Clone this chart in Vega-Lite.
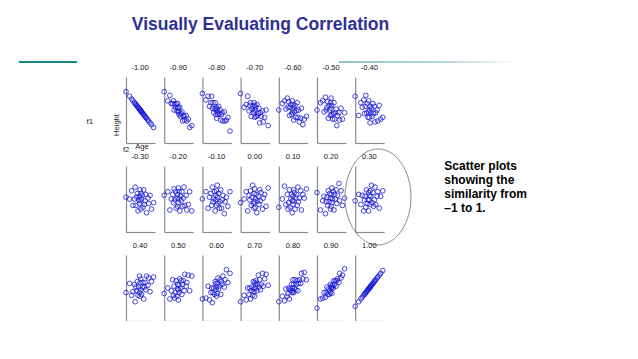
{
  "$schema": "https://vega.github.io/schema/vega-lite/v6.json",
  "background": "white",
  "padding": {"left": 18, "top": 16, "right": 0, "bottom": 0},
  "bounds": "flush",
  "title": {"text": "Visually Evaluating Correlation", "font": "Liberation Sans", "fontSize": 17.5, "fontWeight": "bold", "color": "#2e3192", "anchor": "middle", "frame": "group", "baseline": "alphabetic", "offset": 13, "dx": 134.5},
  "data": {"values": [
    {"r":-1,"x":-20,"y":20},{"r":-1,"x":-15,"y":15},{"r":-1,"x":-12,"y":12},{"r":-1,"x":-10,"y":10},{"r":-1,"x":-8,"y":8},{"r":-1,"x":-7,"y":7},{"r":-1,"x":-6,"y":6},{"r":-1,"x":-5,"y":5},{"r":-1,"x":-4,"y":4},{"r":-1,"x":-3,"y":3},{"r":-1,"x":-2,"y":2},{"r":-1,"x":-1,"y":1},{"r":-1,"x":-1.5,"y":1.5},{"r":-1,"x":0,"y":0},{"r":-1,"x":0.5,"y":-0.5},{"r":-1,"x":1,"y":-1},{"r":-1,"x":1.5,"y":-1.5},{"r":-1,"x":2,"y":-2},{"r":-1,"x":3,"y":-3},{"r":-1,"x":4,"y":-4},{"r":-1,"x":5,"y":-5},{"r":-1,"x":6,"y":-6},{"r":-1,"x":7,"y":-7},{"r":-1,"x":8,"y":-8},{"r":-1,"x":9,"y":-9},{"r":-1,"x":11,"y":-11},{"r":-1,"x":12,"y":-12},{"r":-1,"x":14,"y":-14},{"r":-1,"x":16,"y":-16},{"r":-1,"x":19,"y":-19},
    {"r":-0.9,"x":-20,"y":20},{"r":-0.9,"x":-15,"y":10},{"r":-0.9,"x":-12,"y":16},{"r":-0.9,"x":-10,"y":7},{"r":-0.9,"x":-8,"y":7},{"r":-0.9,"x":-7,"y":10},{"r":-0.9,"x":-6,"y":0},{"r":-0.9,"x":-5,"y":6},{"r":-0.9,"x":-4,"y":3},{"r":-0.9,"x":-3,"y":7},{"r":-0.9,"x":-2,"y":-1},{"r":-0.9,"x":-1,"y":2},{"r":-0.9,"x":-1,"y":7},{"r":-0.9,"x":0,"y":-2},{"r":-0.9,"x":0,"y":3},{"r":-0.9,"x":1,"y":-5},{"r":-0.9,"x":1,"y":-2},{"r":-0.9,"x":2,"y":3},{"r":-0.9,"x":3,"y":-7},{"r":-0.9,"x":4,"y":-4},{"r":-0.9,"x":5,"y":-2},{"r":-0.9,"x":6,"y":-12},{"r":-0.9,"x":7,"y":-7},{"r":-0.9,"x":8,"y":-6},{"r":-0.9,"x":9,"y":-11},{"r":-0.9,"x":11,"y":-6},{"r":-0.9,"x":12,"y":-12},{"r":-0.9,"x":14,"y":-10},{"r":-0.9,"x":16,"y":-19},{"r":-0.9,"x":19,"y":-17},
    {"r":-0.8,"x":-20,"y":18},{"r":-0.8,"x":-15,"y":11},{"r":-0.8,"x":-12,"y":15},{"r":-0.8,"x":-10,"y":4},{"r":-0.8,"x":-8,"y":8},{"r":-0.8,"x":-7,"y":15},{"r":-0.8,"x":-6,"y":2},{"r":-0.8,"x":-5,"y":8},{"r":-0.8,"x":-4,"y":-3},{"r":-0.8,"x":-3,"y":1},{"r":-0.8,"x":-2,"y":8},{"r":-0.8,"x":-1,"y":-5},{"r":-0.8,"x":-1,"y":1},{"r":-0.8,"x":0,"y":3},{"r":-0.8,"x":0,"y":-9},{"r":-0.8,"x":1,"y":-2},{"r":-0.8,"x":1,"y":1},{"r":-0.8,"x":2,"y":-5},{"r":-0.8,"x":3,"y":4},{"r":-0.8,"x":4,"y":-4},{"r":-0.8,"x":5,"y":0},{"r":-0.8,"x":6,"y":-11},{"r":-0.8,"x":7,"y":-5},{"r":-0.8,"x":8,"y":-3},{"r":-0.8,"x":9,"y":-12},{"r":-0.8,"x":11,"y":-2},{"r":-0.8,"x":12,"y":-12},{"r":-0.8,"x":14,"y":-11},{"r":-0.8,"x":16,"y":-8},{"r":-0.8,"x":19,"y":-23},
    {"r":-0.7,"x":-20,"y":18},{"r":-0.7,"x":-15,"y":3},{"r":-0.7,"x":-12,"y":6},{"r":-0.7,"x":-10,"y":15},{"r":-0.7,"x":-8,"y":-1},{"r":-0.7,"x":-7,"y":5},{"r":-0.7,"x":-6,"y":8},{"r":-0.7,"x":-5,"y":-7},{"r":-0.7,"x":-4,"y":1},{"r":-0.7,"x":-3,"y":4},{"r":-0.7,"x":-2,"y":-3},{"r":-0.7,"x":-1,"y":8},{"r":-0.7,"x":-1,"y":-1},{"r":-0.7,"x":0,"y":5},{"r":-0.7,"x":0,"y":-8},{"r":-0.7,"x":1,"y":0},{"r":-0.7,"x":1,"y":3},{"r":-0.7,"x":2,"y":-7},{"r":-0.7,"x":3,"y":6},{"r":-0.7,"x":4,"y":-6},{"r":-0.7,"x":5,"y":-4},{"r":-0.7,"x":6,"y":2},{"r":-0.7,"x":7,"y":-14},{"r":-0.7,"x":8,"y":-3},{"r":-0.7,"x":9,"y":-7},{"r":-0.7,"x":11,"y":-1},{"r":-0.7,"x":12,"y":-13},{"r":-0.7,"x":14,"y":-8},{"r":-0.7,"x":16,"y":0},{"r":-0.7,"x":19,"y":-17},
    {"r":-0.6,"x":-20,"y":0},{"r":-0.6,"x":-15,"y":7},{"r":-0.6,"x":-12,"y":10},{"r":-0.6,"x":-10,"y":1},{"r":-0.6,"x":-8,"y":13},{"r":-0.6,"x":-7,"y":3},{"r":-0.6,"x":-6,"y":9},{"r":-0.6,"x":-5,"y":-6},{"r":-0.6,"x":-4,"y":3},{"r":-0.6,"x":-3,"y":6},{"r":-0.6,"x":-2,"y":-5},{"r":-0.6,"x":-1,"y":10},{"r":-0.6,"x":-1,"y":-3},{"r":-0.6,"x":0,"y":0},{"r":-0.6,"x":0,"y":6},{"r":-0.6,"x":1,"y":-11},{"r":-0.6,"x":1,"y":3},{"r":-0.6,"x":2,"y":-2},{"r":-0.6,"x":3,"y":5},{"r":-0.6,"x":4,"y":-8},{"r":-0.6,"x":5,"y":-1},{"r":-0.6,"x":6,"y":8},{"r":-0.6,"x":7,"y":-8},{"r":-0.6,"x":8,"y":0},{"r":-0.6,"x":9,"y":-13},{"r":-0.6,"x":11,"y":-9},{"r":-0.6,"x":12,"y":2},{"r":-0.6,"x":14,"y":-16},{"r":-0.6,"x":16,"y":-10},{"r":-0.6,"x":19,"y":-7},
    {"r":-0.5,"x":-20,"y":0},{"r":-0.5,"x":-15,"y":8},{"r":-0.5,"x":-12,"y":10},{"r":-0.5,"x":-10,"y":-2},{"r":-0.5,"x":-8,"y":14},{"r":-0.5,"x":-7,"y":0},{"r":-0.5,"x":-6,"y":3},{"r":-0.5,"x":-5,"y":9},{"r":-0.5,"x":-4,"y":-9},{"r":-0.5,"x":-3,"y":5},{"r":-0.5,"x":-2,"y":0},{"r":-0.5,"x":-1,"y":8},{"r":-0.5,"x":-1,"y":-6},{"r":-0.5,"x":0,"y":2},{"r":-0.5,"x":0,"y":13},{"r":-0.5,"x":1,"y":-5},{"r":-0.5,"x":1,"y":5},{"r":-0.5,"x":2,"y":-10},{"r":-0.5,"x":3,"y":-4},{"r":-0.5,"x":4,"y":8},{"r":-0.5,"x":5,"y":-10},{"r":-0.5,"x":6,"y":-3},{"r":-0.5,"x":7,"y":1},{"r":-0.5,"x":8,"y":-17},{"r":-0.5,"x":9,"y":-6},{"r":-0.5,"x":11,"y":-3},{"r":-0.5,"x":12,"y":-11},{"r":-0.5,"x":14,"y":2},{"r":-0.5,"x":16,"y":-10},{"r":-0.5,"x":19,"y":-3},
    {"r":-0.4,"x":-20,"y":15},{"r":-0.4,"x":-15,"y":-6},{"r":-0.4,"x":-12,"y":8},{"r":-0.4,"x":-10,"y":3},{"r":-0.4,"x":-8,"y":11},{"r":-0.4,"x":-7,"y":-4},{"r":-0.4,"x":-6,"y":4},{"r":-0.4,"x":-5,"y":16},{"r":-0.4,"x":-4,"y":-3},{"r":-0.4,"x":-3,"y":7},{"r":-0.4,"x":-2,"y":-8},{"r":-0.4,"x":-1,"y":-2},{"r":-0.4,"x":-1,"y":10},{"r":-0.4,"x":0,"y":-8},{"r":-0.4,"x":0,"y":0},{"r":-0.4,"x":1,"y":4},{"r":-0.4,"x":1,"y":-14},{"r":-0.4,"x":2,"y":-3},{"r":-0.4,"x":3,"y":2},{"r":-0.4,"x":4,"y":-7},{"r":-0.4,"x":5,"y":7},{"r":-0.4,"x":6,"y":-4},{"r":-0.4,"x":7,"y":4},{"r":-0.4,"x":8,"y":-13},{"r":-0.4,"x":9,"y":-3},{"r":-0.4,"x":11,"y":0},{"r":-0.4,"x":12,"y":-12},{"r":-0.4,"x":14,"y":5},{"r":-0.4,"x":16,"y":-10},{"r":-0.4,"x":19,"y":-8},
    {"r":-0.3,"x":-20,"y":2},{"r":-0.3,"x":-15,"y":0},{"r":-0.3,"x":-12,"y":9},{"r":-0.3,"x":-10,"y":-7},{"r":-0.3,"x":-8,"y":0},{"r":-0.3,"x":-7,"y":13},{"r":-0.3,"x":-6,"y":-7},{"r":-0.3,"x":-5,"y":2},{"r":-0.3,"x":-4,"y":6},{"r":-0.3,"x":-3,"y":-13},{"r":-0.3,"x":-2,"y":-1},{"r":-0.3,"x":-1,"y":3},{"r":-0.3,"x":-1,"y":-5},{"r":-0.3,"x":0,"y":10},{"r":-0.3,"x":0,"y":-2},{"r":-0.3,"x":1,"y":6},{"r":-0.3,"x":1,"y":-11},{"r":-0.3,"x":2,"y":0},{"r":-0.3,"x":3,"y":4},{"r":-0.3,"x":4,"y":-9},{"r":-0.3,"x":5,"y":10},{"r":-0.3,"x":6,"y":-6},{"r":-0.3,"x":7,"y":-2},{"r":-0.3,"x":8,"y":5},{"r":-0.3,"x":9,"y":-15},{"r":-0.3,"x":11,"y":1},{"r":-0.3,"x":12,"y":-5},{"r":-0.3,"x":14,"y":4},{"r":-0.3,"x":16,"y":-11},{"r":-0.3,"x":19,"y":-4},
    {"r":-0.2,"x":-20,"y":4},{"r":-0.2,"x":-15,"y":8},{"r":-0.2,"x":-12,"y":-12},{"r":-0.2,"x":-10,"y":0},{"r":-0.2,"x":-8,"y":5},{"r":-0.2,"x":-7,"y":-4},{"r":-0.2,"x":-6,"y":11},{"r":-0.2,"x":-5,"y":-1},{"r":-0.2,"x":-4,"y":8},{"r":-0.2,"x":-3,"y":-10},{"r":-0.2,"x":-2,"y":1},{"r":-0.2,"x":-1,"y":5},{"r":-0.2,"x":-1,"y":-8},{"r":-0.2,"x":0,"y":12},{"r":-0.2,"x":0,"y":-4},{"r":-0.2,"x":1,"y":0},{"r":-0.2,"x":1,"y":8},{"r":-0.2,"x":2,"y":-13},{"r":-0.2,"x":3,"y":3},{"r":-0.2,"x":4,"y":-2},{"r":-0.2,"x":5,"y":8},{"r":-0.2,"x":6,"y":-8},{"r":-0.2,"x":7,"y":1},{"r":-0.2,"x":8,"y":13},{"r":-0.2,"x":9,"y":-7},{"r":-0.2,"x":11,"y":4},{"r":-0.2,"x":12,"y":-12},{"r":-0.2,"x":14,"y":-6},{"r":-0.2,"x":16,"y":8},{"r":-0.2,"x":19,"y":-13},
    {"r":-0.1,"x":-20,"y":0},{"r":-0.1,"x":-15,"y":8},{"r":-0.1,"x":-12,"y":-10},{"r":-0.1,"x":-10,"y":2},{"r":-0.1,"x":-8,"y":6},{"r":-0.1,"x":-7,"y":-7},{"r":-0.1,"x":-6,"y":13},{"r":-0.1,"x":-5,"y":-3},{"r":-0.1,"x":-4,"y":0},{"r":-0.1,"x":-3,"y":8},{"r":-0.1,"x":-2,"y":-13},{"r":-0.1,"x":-1,"y":4},{"r":-0.1,"x":-1,"y":-1},{"r":-0.1,"x":0,"y":9},{"r":-0.1,"x":0,"y":-7},{"r":-0.1,"x":1,"y":2},{"r":-0.1,"x":1,"y":15},{"r":-0.1,"x":2,"y":-5},{"r":-0.1,"x":3,"y":6},{"r":-0.1,"x":4,"y":-10},{"r":-0.1,"x":5,"y":-3},{"r":-0.1,"x":6,"y":10},{"r":-0.1,"x":7,"y":-10},{"r":-0.1,"x":8,"y":-1},{"r":-0.1,"x":9,"y":4},{"r":-0.1,"x":11,"y":-16},{"r":-0.1,"x":12,"y":-3},{"r":-0.1,"x":14,"y":2},{"r":-0.1,"x":16,"y":-8},{"r":-0.1,"x":19,"y":8},
    {"r":0,"x":-20,"y":-4},{"r":0,"x":-15,"y":0},{"r":0,"x":-12,"y":8},{"r":0,"x":-10,"y":-13},{"r":0,"x":-8,"y":4},{"r":0,"x":-7,"y":-1},{"r":0,"x":-6,"y":9},{"r":0,"x":-5,"y":-7},{"r":0,"x":-4,"y":2},{"r":0,"x":-3,"y":15},{"r":0,"x":-2,"y":-5},{"r":0,"x":-1,"y":6},{"r":0,"x":-1,"y":-10},{"r":0,"x":0,"y":-3},{"r":0,"x":0,"y":11},{"r":0,"x":1,"y":-9},{"r":0,"x":1,"y":0},{"r":0,"x":2,"y":5},{"r":0,"x":3,"y":-15},{"r":0,"x":4,"y":-2},{"r":0,"x":5,"y":3},{"r":0,"x":6,"y":-6},{"r":0,"x":7,"y":10},{"r":0,"x":8,"y":-2},{"r":0,"x":9,"y":7},{"r":0,"x":11,"y":-11},{"r":0,"x":12,"y":1},{"r":0,"x":14,"y":5},{"r":0,"x":16,"y":-8},{"r":0,"x":19,"y":12},
    {"r":0.1,"x":-20,"y":-9},{"r":0.1,"x":-15,"y":0},{"r":0.1,"x":-12,"y":14},{"r":0.1,"x":-10,"y":-6},{"r":0.1,"x":-8,"y":5},{"r":0.1,"x":-7,"y":-11},{"r":0.1,"x":-6,"y":-4},{"r":0.1,"x":-5,"y":10},{"r":0.1,"x":-4,"y":-9},{"r":0.1,"x":-3,"y":0},{"r":0.1,"x":-2,"y":5},{"r":0.1,"x":-1,"y":-15},{"r":0.1,"x":-1,"y":-2},{"r":0.1,"x":0,"y":3},{"r":0.1,"x":0,"y":-6},{"r":0.1,"x":1,"y":10},{"r":0.1,"x":1,"y":-2},{"r":0.1,"x":2,"y":7},{"r":0.1,"x":3,"y":-11},{"r":0.1,"x":4,"y":1},{"r":0.1,"x":5,"y":5},{"r":0.1,"x":6,"y":-7},{"r":0.1,"x":7,"y":13},{"r":0.1,"x":8,"y":-3},{"r":0.1,"x":9,"y":1},{"r":0.1,"x":11,"y":9},{"r":0.1,"x":12,"y":-12},{"r":0.1,"x":14,"y":5},{"r":0.1,"x":16,"y":1},{"r":0.1,"x":19,"y":11},
    {"r":0.2,"x":-20,"y":7},{"r":0.2,"x":-15,"y":-12},{"r":0.2,"x":-12,"y":-2},{"r":0.2,"x":-10,"y":3},{"r":0.2,"x":-8,"y":-16},{"r":0.2,"x":-7,"y":-3},{"r":0.2,"x":-6,"y":2},{"r":0.2,"x":-5,"y":-7},{"r":0.2,"x":-4,"y":9},{"r":0.2,"x":-3,"y":-3},{"r":0.2,"x":-2,"y":6},{"r":0.2,"x":-1,"y":-11},{"r":0.2,"x":-1,"y":1},{"r":0.2,"x":0,"y":5},{"r":0.2,"x":0,"y":-8},{"r":0.2,"x":1,"y":12},{"r":0.2,"x":1,"y":-4},{"r":0.2,"x":2,"y":0},{"r":0.2,"x":3,"y":8},{"r":0.2,"x":4,"y":-12},{"r":0.2,"x":5,"y":5},{"r":0.2,"x":6,"y":0},{"r":0.2,"x":7,"y":10},{"r":0.2,"x":8,"y":-5},{"r":0.2,"x":9,"y":4},{"r":0.2,"x":11,"y":17},{"r":0.2,"x":12,"y":-2},{"r":0.2,"x":14,"y":9},{"r":0.2,"x":16,"y":-7},{"r":0.2,"x":19,"y":1},
    {"r":0.3,"x":-20,"y":-2},{"r":0.3,"x":-15,"y":5},{"r":0.3,"x":-12,"y":-6},{"r":0.3,"x":-10,"y":4},{"r":0.3,"x":-8,"y":-13},{"r":0.3,"x":-7,"y":-1},{"r":0.3,"x":-6,"y":3},{"r":0.3,"x":-5,"y":-9},{"r":0.3,"x":-4,"y":10},{"r":0.3,"x":-3,"y":-5},{"r":0.3,"x":-2,"y":-1},{"r":0.3,"x":-1,"y":7},{"r":0.3,"x":-1,"y":-13},{"r":0.3,"x":0,"y":4},{"r":0.3,"x":0,"y":-1},{"r":0.3,"x":1,"y":9},{"r":0.3,"x":1,"y":-6},{"r":0.3,"x":2,"y":3},{"r":0.3,"x":3,"y":15},{"r":0.3,"x":4,"y":-4},{"r":0.3,"x":5,"y":7},{"r":0.3,"x":6,"y":-8},{"r":0.3,"x":7,"y":-1},{"r":0.3,"x":8,"y":13},{"r":0.3,"x":9,"y":-6},{"r":0.3,"x":11,"y":3},{"r":0.3,"x":12,"y":8},{"r":0.3,"x":14,"y":-10},{"r":0.3,"x":16,"y":3},{"r":0.3,"x":19,"y":9},
    {"r":0.4,"x":-20,"y":-5},{"r":0.4,"x":-15,"y":5},{"r":0.4,"x":-12,"y":-8},{"r":0.4,"x":-10,"y":-4},{"r":0.4,"x":-8,"y":4},{"r":0.4,"x":-7,"y":-15},{"r":0.4,"x":-6,"y":1},{"r":0.4,"x":-5,"y":-3},{"r":0.4,"x":-4,"y":7},{"r":0.4,"x":-3,"y":-8},{"r":0.4,"x":-2,"y":1},{"r":0.4,"x":-1,"y":13},{"r":0.4,"x":-1,"y":-5},{"r":0.4,"x":0,"y":6},{"r":0.4,"x":0,"y":-9},{"r":0.4,"x":1,"y":-2},{"r":0.4,"x":1,"y":10},{"r":0.4,"x":2,"y":-7},{"r":0.4,"x":3,"y":1},{"r":0.4,"x":4,"y":6},{"r":0.4,"x":5,"y":-12},{"r":0.4,"x":6,"y":1},{"r":0.4,"x":7,"y":6},{"r":0.4,"x":8,"y":-2},{"r":0.4,"x":9,"y":13},{"r":0.4,"x":11,"y":3},{"r":0.4,"x":12,"y":11},{"r":0.4,"x":14,"y":-4},{"r":0.4,"x":16,"y":7},{"r":0.4,"x":19,"y":12},
    {"r":0.5,"x":-20,"y":-6},{"r":0.5,"x":-15,"y":0},{"r":0.5,"x":-12,"y":-12},{"r":0.5,"x":-10,"y":-3},{"r":0.5,"x":-8,"y":9},{"r":0.5,"x":-7,"y":-8},{"r":0.5,"x":-6,"y":2},{"r":0.5,"x":-5,"y":-11},{"r":0.5,"x":-4,"y":-5},{"r":0.5,"x":-3,"y":8},{"r":0.5,"x":-2,"y":-9},{"r":0.5,"x":-1,"y":-1},{"r":0.5,"x":-1,"y":4},{"r":0.5,"x":0,"y":-13},{"r":0.5,"x":0,"y":-2},{"r":0.5,"x":1,"y":3},{"r":0.5,"x":1,"y":-5},{"r":0.5,"x":2,"y":10},{"r":0.5,"x":3,"y":0},{"r":0.5,"x":4,"y":8},{"r":0.5,"x":5,"y":-7},{"r":0.5,"x":6,"y":4},{"r":0.5,"x":7,"y":8},{"r":0.5,"x":8,"y":-3},{"r":0.5,"x":9,"y":15},{"r":0.5,"x":11,"y":2},{"r":0.5,"x":12,"y":6},{"r":0.5,"x":14,"y":14},{"r":0.5,"x":16,"y":-3},{"r":0.5,"x":19,"y":13},
    {"r":0.6,"x":-20,"y":-12},{"r":0.6,"x":-15,"y":-11},{"r":0.6,"x":-12,"y":2},{"r":0.6,"x":-10,"y":-13},{"r":0.6,"x":-8,"y":-5},{"r":0.6,"x":-7,"y":0},{"r":0.6,"x":-6,"y":-16},{"r":0.6,"x":-5,"y":-5},{"r":0.6,"x":-4,"y":0},{"r":0.6,"x":-3,"y":-7},{"r":0.6,"x":-2,"y":7},{"r":0.6,"x":-1,"y":-2},{"r":0.6,"x":-1,"y":5},{"r":0.6,"x":0,"y":-9},{"r":0.6,"x":0,"y":1},{"r":0.6,"x":1,"y":5},{"r":0.6,"x":1,"y":-6},{"r":0.6,"x":2,"y":11},{"r":0.6,"x":3,"y":-1},{"r":0.6,"x":4,"y":2},{"r":0.6,"x":5,"y":9},{"r":0.6,"x":6,"y":-7},{"r":0.6,"x":7,"y":7},{"r":0.6,"x":8,"y":4},{"r":0.6,"x":9,"y":13},{"r":0.6,"x":11,"y":1},{"r":0.6,"x":12,"y":9},{"r":0.6,"x":14,"y":20},{"r":0.6,"x":16,"y":6},{"r":0.6,"x":19,"y":16},
    {"r":0.7,"x":-20,"y":-15},{"r":0.7,"x":-15,"y":-8},{"r":0.7,"x":-12,"y":-13},{"r":0.7,"x":-10,"y":0},{"r":0.7,"x":-8,"y":-7},{"r":0.7,"x":-7,"y":0},{"r":0.7,"x":-6,"y":-12},{"r":0.7,"x":-5,"y":-3},{"r":0.7,"x":-4,"y":1},{"r":0.7,"x":-3,"y":-8},{"r":0.7,"x":-2,"y":7},{"r":0.7,"x":-1,"y":-4},{"r":0.7,"x":-1,"y":-1},{"r":0.7,"x":0,"y":6},{"r":0.7,"x":0,"y":-9},{"r":0.7,"x":1,"y":4},{"r":0.7,"x":1,"y":0},{"r":0.7,"x":2,"y":8},{"r":0.7,"x":3,"y":-3},{"r":0.7,"x":4,"y":4},{"r":0.7,"x":5,"y":14},{"r":0.7,"x":6,"y":1},{"r":0.7,"x":7,"y":9},{"r":0.7,"x":8,"y":-2},{"r":0.7,"x":9,"y":4},{"r":0.7,"x":11,"y":16},{"r":0.7,"x":12,"y":2},{"r":0.7,"x":14,"y":10},{"r":0.7,"x":16,"y":15},{"r":0.7,"x":19,"y":3},
    {"r":0.8,"x":-20,"y":-15},{"r":0.8,"x":-15,"y":-9},{"r":0.8,"x":-12,"y":-14},{"r":0.8,"x":-10,"y":-1},{"r":0.8,"x":-8,"y":-9},{"r":0.8,"x":-7,"y":-6},{"r":0.8,"x":-6,"y":0},{"r":0.8,"x":-5,"y":-12},{"r":0.8,"x":-4,"y":-1},{"r":0.8,"x":-3,"y":-3},{"r":0.8,"x":-2,"y":4},{"r":0.8,"x":-1,"y":-5},{"r":0.8,"x":-1,"y":0},{"r":0.8,"x":0,"y":9},{"r":0.8,"x":0,"y":-3},{"r":0.8,"x":1,"y":4},{"r":0.8,"x":1,"y":-5},{"r":0.8,"x":2,"y":0},{"r":0.8,"x":3,"y":9},{"r":0.8,"x":4,"y":-2},{"r":0.8,"x":5,"y":4},{"r":0.8,"x":6,"y":8},{"r":0.8,"x":7,"y":-3},{"r":0.8,"x":8,"y":5},{"r":0.8,"x":9,"y":9},{"r":0.8,"x":11,"y":5},{"r":0.8,"x":12,"y":16},{"r":0.8,"x":14,"y":10},{"r":0.8,"x":16,"y":17},{"r":0.8,"x":19,"y":9},
    {"r":0.9,"x":-20,"y":-22},{"r":0.9,"x":-15,"y":-12},{"r":0.9,"x":-12,"y":-11},{"r":0.9,"x":-10,"y":-5},{"r":0.9,"x":-8,"y":-10},{"r":0.9,"x":-7,"y":-5},{"r":0.9,"x":-6,"y":1},{"r":0.9,"x":-5,"y":-7},{"r":0.9,"x":-4,"y":-1},{"r":0.9,"x":-3,"y":-7},{"r":0.9,"x":-2,"y":-3},{"r":0.9,"x":-1,"y":4},{"r":0.9,"x":-1,"y":-5},{"r":0.9,"x":0,"y":0},{"r":0.9,"x":0,"y":2},{"r":0.9,"x":1,"y":-6},{"r":0.9,"x":1,"y":0},{"r":0.9,"x":2,"y":3},{"r":0.9,"x":3,"y":0},{"r":0.9,"x":4,"y":8},{"r":0.9,"x":5,"y":4},{"r":0.9,"x":6,"y":8},{"r":0.9,"x":7,"y":2},{"r":0.9,"x":8,"y":8},{"r":0.9,"x":9,"y":10},{"r":0.9,"x":11,"y":6},{"r":0.9,"x":12,"y":16},{"r":0.9,"x":14,"y":11},{"r":0.9,"x":16,"y":14},{"r":0.9,"x":19,"y":21},
    {"r":1,"x":-20,"y":-20},{"r":1,"x":-15,"y":-15},{"r":1,"x":-12,"y":-12},{"r":1,"x":-10,"y":-10},{"r":1,"x":-8,"y":-8},{"r":1,"x":-7,"y":-7},{"r":1,"x":-6,"y":-6},{"r":1,"x":-5,"y":-5},{"r":1,"x":-4,"y":-4},{"r":1,"x":-3,"y":-3},{"r":1,"x":-2,"y":-2},{"r":1,"x":-1,"y":-1},{"r":1,"x":-1.5,"y":-1.5},{"r":1,"x":0,"y":0},{"r":1,"x":0.5,"y":0.5},{"r":1,"x":1,"y":1},{"r":1,"x":1.5,"y":1.5},{"r":1,"x":2,"y":2},{"r":1,"x":3,"y":3},{"r":1,"x":4,"y":4},{"r":1,"x":5,"y":5},{"r":1,"x":6,"y":6},{"r":1,"x":7,"y":7},{"r":1,"x":8,"y":8},{"r":1,"x":9,"y":9},{"r":1,"x":11,"y":11},{"r":1,"x":12,"y":12},{"r":1,"x":14,"y":14},{"r":1,"x":16,"y":16},{"r":1,"x":19,"y":19}
  ]},
  "facet": {"field": "r", "type": "ordinal", "header": {"labels": false, "labelExpr": "''", "labelFontSize": 0, "labelPadding": 0, "title": null, "titlePadding": 0}},
  "columns": 7,
  "spacing": {"row": 23, "column": 9.2},
  "resolve": {"axis": {"x": "independent", "y": "independent"}},
  "spec": {
    "width": 29,
    "height": 66,
    "layer": [
      {
        "mark": {"type": "point", "filled": false, "size": 22, "strokeWidth": 0.9, "color": "#1c1cd6", "opacity": 0.9},
        "encoding": {
          "x": {"field": "x", "type": "quantitative", "title": null, "scale": {"domain": [-20, 21], "nice": false, "zero": false}},
          "y": {"field": "y", "type": "quantitative", "title": null, "scale": {"domain": [-36, 36], "nice": false, "zero": false}}
        }
      },
      {
        "transform": [{"aggregate": [{"op": "count", "as": "n"}], "groupby": ["r"]}],
        "mark": {"type": "text", "fontSize": 7.5, "color": "#111111", "baseline": "alphabetic", "align": "center", "font": "Liberation Sans"},
        "encoding": {
          "x": {"datum": 0, "type": "quantitative", "title": null},
          "y": {"datum": 43.6, "type": "quantitative", "title": null},
          "text": {"field": "r", "type": "quantitative", "format": ".2f"}
        }
      },
      {
        "transform": [{"filter": "datum.r == -1"}, {"aggregate": [{"op": "count", "as": "n"}], "groupby": ["r"]}],
        "layer": [
          {"mark": {"type": "text", "text": "f1", "fontSize": 8, "color": "#222222", "font": "Liberation Sans"},
           "encoding": {"x": {"datum": -71, "type": "quantitative", "title": null}, "y": {"datum": -13, "type": "quantitative", "title": null}}},
          {"mark": {"type": "text", "text": "Height", "fontSize": 7.5, "angle": 270, "color": "#222222", "font": "Liberation Sans"},
           "encoding": {"x": {"datum": -33.4, "type": "quantitative", "title": null}, "y": {"datum": -16.4, "type": "quantitative", "title": null}}},
          {"mark": {"type": "text", "text": "f2", "fontSize": 7.5, "color": "#222222", "font": "Liberation Sans"},
           "encoding": {"x": {"datum": -20, "type": "quantitative", "title": null}, "y": {"datum": -43.6, "type": "quantitative", "title": null}}},
          {"mark": {"type": "text", "text": "Age", "fontSize": 7.5, "color": "#222222", "font": "Liberation Sans"},
           "encoding": {"x": {"datum": 2.6, "type": "quantitative", "title": null}, "y": {"datum": -40.4, "type": "quantitative", "title": null}}},
          {"mark": {"type": "rect", "color": "#1a8585"},
           "encoding": {"x": {"datum": -171.3, "type": "quantitative", "title": null}, "x2": {"datum": -89.3}, "y": {"datum": 53.5, "type": "quantitative", "title": null}, "y2": {"datum": 51.3}}},
          {"mark": {"type": "rect", "stroke": null, "fill": {"gradient": "linear", "x1": 0, "y1": 0, "x2": 1, "y2": 0, "stops": [{"offset": 0, "color": "#8cc3c3"}, {"offset": 0.6, "color": "#b8dada"}, {"offset": 1, "color": "#ffffff"}]}},
           "encoding": {"x": {"datum": 281, "type": "quantitative", "title": null}, "x2": {"datum": 538}, "y": {"datum": 53.5, "type": "quantitative", "title": null}, "y2": {"datum": 51.3}}}
        ]
      },
      {
        "transform": [{"filter": "datum.r == 0.3"}, {"aggregate": [{"op": "count", "as": "n"}], "groupby": ["r"]}],
        "layer": [
          {"mark": {"type": "point", "shape": "M0,-1C0.3797,-1,0.6875,-0.5523,0.6875,0C0.6875,0.5523,0.3797,1,0,1C-0.3797,1,-0.6875,0.5523,-0.6875,0C-0.6875,-0.5523,-0.3797,-1,0,-1Z", "size": 9216, "filled": false, "stroke": "#707070", "strokeWidth": 0.8, "opacity": 1},
           "encoding": {"x": {"datum": 12.2, "type": "quantitative", "title": null}, "y": {"datum": 2.2, "type": "quantitative", "title": null}}},
          {"mark": {"type": "text", "text": ["Scatter plots", "showing the", "similarity from", "–1 to 1."], "align": "left", "baseline": "alphabetic", "fontSize": 12, "fontWeight": "bold", "lineHeight": 14, "color": "#000000", "font": "Liberation Sans"},
           "encoding": {"x": {"datum": 106, "type": "quantitative", "title": null}, "y": {"datum": 31.1, "type": "quantitative", "title": null}}}
        ]
      }
    ]
  },
  "config": {
    "font": "Liberation Sans",
    "view": {"stroke": null},
    "header": {"labels": false, "labelFontSize": 0, "labelPadding": 0, "title": null},
    "axis": {"labels": false, "ticks": false, "grid": false, "domainColor": "#8c8c8c", "domainWidth": 1.2},
    "locale": {"number": {"decimal": ".", "thousands": ",", "grouping": [3], "currency": ["$", ""], "minus": "-"}}
  }
}
